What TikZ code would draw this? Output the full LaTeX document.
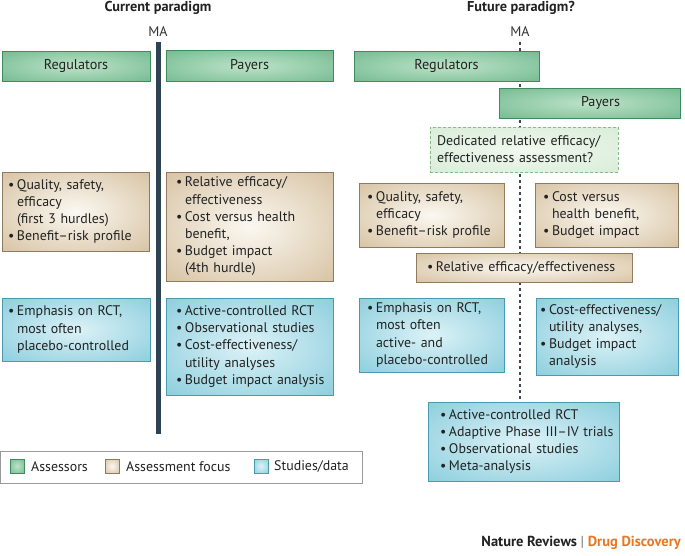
\documentclass[tikz,border=0pt]{standalone}
\usepackage{fontspec}
\setmainfont{PT Sans}
\usetikzlibrary{backgrounds}
\definecolor{txt}{HTML}{222222}
\definecolor{ginner}{HTML}{BDE3C8}
\definecolor{gouter}{HTML}{58AB7C}
\definecolor{gborder}{HTML}{3E8C5E}
\definecolor{tinner}{HTML}{FBF8F1}
\definecolor{touter}{HTML}{C9AE85}
\definecolor{tborder}{HTML}{8F7B5E}
\definecolor{binner}{HTML}{DCF2F7}
\definecolor{bouter}{HTML}{6DC0D3}
\definecolor{bborder}{HTML}{4A9AB0}
\definecolor{dinner}{HTML}{F1F8EF}
\definecolor{douter}{HTML}{CFE8CF}
\definecolor{dborder}{HTML}{86BA8B}
\definecolor{axis}{HTML}{2E4354}
\definecolor{dashc}{HTML}{3D4852}
\definecolor{legborder}{HTML}{9A9A9A}
\definecolor{ndorange}{HTML}{E87722}
\pgfdeclareradialshading{greenglow}{\pgfpoint{0bp}{0bp}}{color(0bp)=(ginner); color(50bp)=(gouter); color(75bp)=(gouter)}
\pgfdeclareradialshading{tanglow}{\pgfpoint{0bp}{0bp}}{color(0bp)=(tinner); color(50bp)=(touter); color(75bp)=(touter)}
\pgfdeclareradialshading{blueglow}{\pgfpoint{0bp}{0bp}}{color(0bp)=(binner); color(50bp)=(bouter); color(75bp)=(bouter)}
\pgfdeclareradialshading{dashglow}{\pgfpoint{0bp}{0bp}}{color(0bp)=(dinner); color(50bp)=(douter); color(75bp)=(douter)}
\newcommand{\bul}{\makebox[9pt][l]{\textbullet}}
\newcommand{\ind}{\hspace*{9pt}}
\begin{document}
\begin{tikzpicture}[x=1pt,y=-1pt,
  every node/.style={font=\fontsize{13.9}{17.2}\selectfont, text=txt},
  panel/.style={inner ysep=0pt, align=left, line width=0.8pt},
  lpad/.style={inner xsep=0pt, execute at begin node={\leftskip=#1pt\relax\hyphenpenalty=10000\relax}},
  assessor/.style={panel, draw=gborder, shading=greenglow, align=center},
  focus/.style={panel, draw=tborder, shading=tanglow},
  studies/.style={panel, draw=bborder, shading=blueglow},
  tentative/.style={panel, draw=dborder, dashed, dash pattern=on 3pt off 2pt, shading=dashglow},
  heading/.style={font=\bfseries\fontsize{14.3}{17}\selectfont},
  malabel/.style={inner sep=0pt, text=black!80, font=\fontsize{14}{17}\selectfont},
  swatch/.style={minimum width=14pt, minimum height=14pt, inner sep=0pt, line width=0.6pt},
  legtext/.style={anchor=west, inner sep=0pt},
  axisline/.style={draw=axis, line width=5pt},
  dashline/.style={draw=dashc, line width=2.2pt, dash pattern=on 3pt off 3pt}]
\useasboundingbox (0,0) rectangle (685,555);

% titles
\node[heading] (curT) at (158,8) {Current paradigm};
\node[heading] (futT) at (521,8) {Future paradigm?};
\node[malabel] (maL) at (158,32) {MA};
\node[malabel] (maR) at (520,32) {MA};
\coordinate (lTop) at (158,42);
\coordinate (lBot) at (158,434);
\coordinate (rTop) at (520,42);

% assessors
\node[assessor, minimum width=148pt, minimum height=30pt, font=\fontsize{14.2}{17}\selectfont] (regL) at (76,66) {Regulators};
\node[assessor, minimum width=167pt, minimum height=31pt, font=\fontsize{14.2}{17}\selectfont] (payL) at (249.5,66) {Payers};
\node[assessor, minimum width=185pt, minimum height=30pt, font=\fontsize{14.2}{17}\selectfont] (regR) at (446.5,66) {Regulators};
\node[assessor, minimum width=181pt, minimum height=30pt, font=\fontsize{14.2}{17}\selectfont] (payR) at (589.5,103) {\hspace*{22pt}Payers};
\node[tentative, text width=188pt, lpad=7, minimum height=45pt] (dedic) at (524,149.5)
  {Dedicated relative efficacy/\\effectiveness assessment?};

% assessment focus
\node[focus, text width=147pt, lpad=6, minimum height=79pt] (tanL1) at (75.5,211.5)
  {\bul Quality, safety,\\\ind efficacy\\\ind (first 3 hurdles)\\\bul Benefit–risk profile};
\node[focus, text width=167pt, lpad=10, minimum height=109pt] (tanL2) at (249.5,226.5)
  {\bul Relative efficacy/\\\ind effectiveness\\\bul Cost versus health\\\ind benefit,\\\bul Budget impact\\\ind (4th hurdle)};
\node[focus, text width=145pt, lpad=8, minimum height=64pt] (tanR1) at (431.5,215)
  {\bul Quality, safety,\\\ind efficacy\\\bul Benefit–risk profile};
\node[focus, text width=143pt, lpad=8, minimum height=64pt] (tanR2) at (606.5,215)
  {\bul Cost versus\\\ind health benefit,\\\bul Budget impact};
\node[focus, text width=216pt, lpad=11, minimum height=29pt] (tanR3) at (524,267.5)
  {\bul Relative efficacy/effectiveness};

% studies / data
\node[studies, text width=148pt, lpad=6, minimum height=63pt] (blueL1) at (76,329.5)
  {\bul Emphasis on RCT,\\\ind most often\\\ind placebo-controlled};
\node[studies, text width=167pt, lpad=10, minimum height=97pt] (blueL2) at (249.5,346.5)
  {\bul Active-controlled RCT\\\bul Observational studies\\\bul Cost-effectiveness/\\\ind utility analyses\\\bul Budget impact analysis};
\node[studies, text width=145pt, lpad=8, minimum height=74pt] (blueR1) at (431.5,335)
  {\bul Emphasis on RCT,\\\ind most often\\\ind active- and\\\ind placebo-controlled};
\node[studies, text width=142pt, lpad=4, minimum height=77pt] (blueR2) at (607,336.5)
  {\bul Cost-effectiveness/\\\ind utility analyses,\\\bul Budget impact\\\ind analysis};
\node[studies, text width=191pt, lpad=12, minimum height=79pt] (blueR3) at (523.5,441.5)
  {\bul Active-controlled RCT\\\bul Adaptive Phase III–IV trials\\\bul Observational studies\\\bul Meta-analysis};

% paradigm lines, behind the boxes
\begin{pgfonlayer}{background}
  \fill[white] (0,0) rectangle (685,555);
  \draw[axisline] (lTop) -- (lBot);
  \draw[dashline] (rTop) -- (blueR3.north -| rTop);
\end{pgfonlayer}

% legend
\node[draw=legborder, line width=1pt, minimum width=362pt, minimum height=32pt, inner sep=0pt] (legend) at (181.5,467) {};
\node[swatch, draw=gborder, shading=greenglow] (swG) at (17,466) {};
\node[legtext] (lgG) at (31,467) {Assessors};
\node[swatch, draw=tborder, shading=tanglow] (swT) at (112,466) {};
\node[legtext] (lgT) at (126,467) {Assessment focus};
\node[swatch, draw=bborder, shading=blueglow] (swB) at (261,466) {};
\node[legtext] (lgB) at (274,467) {Studies/data};

% credit
\node[anchor=east, inner sep=0pt, font=\bfseries\fontsize{14.5}{16}\selectfont] (credit) at (681,543)
  {\textcolor{txt}{Nature Reviews} {\mdseries\textcolor{black!55}{|}} \textcolor{ndorange}{Drug Discovery}};
\end{tikzpicture}
\end{document}
